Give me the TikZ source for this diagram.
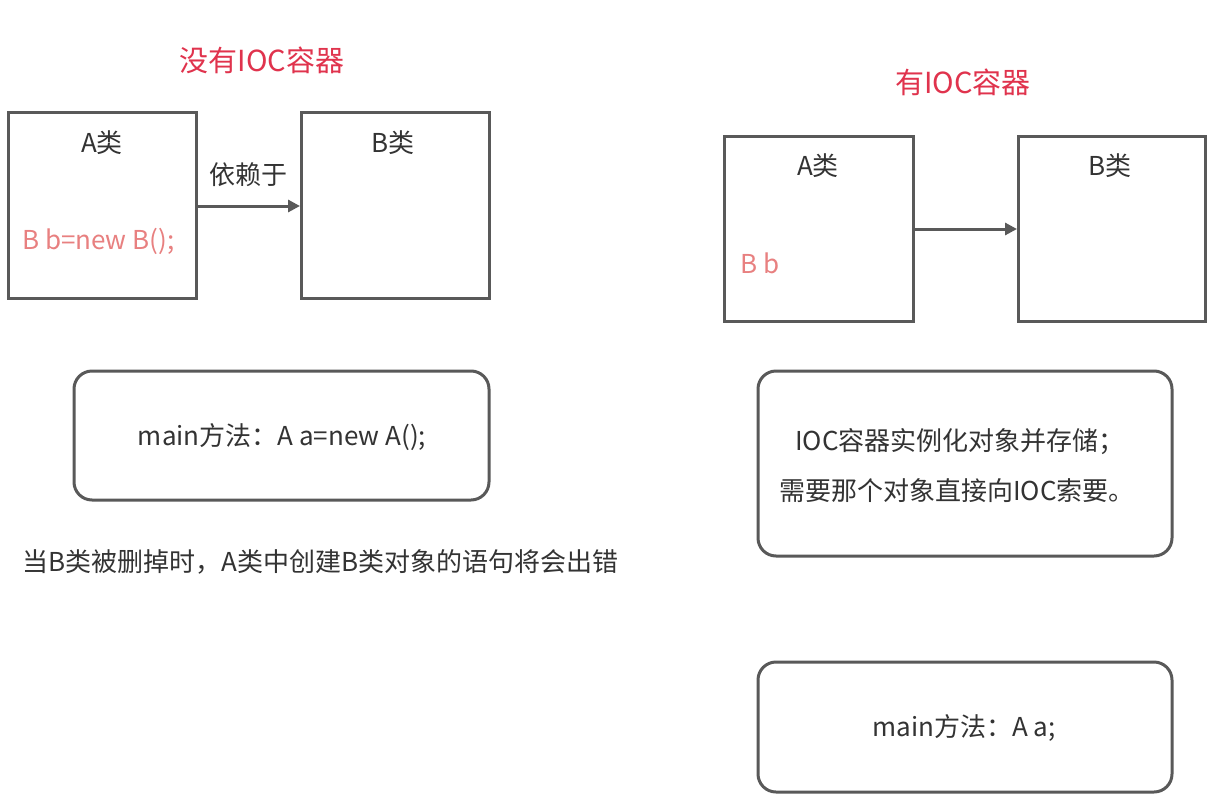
\documentclass[tikz,border=0pt]{standalone}
\usepackage{fontspec}
\setmainfont{Noto Sans CJK SC}
\usetikzlibrary{arrows.meta}
\definecolor{ln}{HTML}{595959}
\definecolor{ttl}{HTML}{E0334D}
\definecolor{code}{HTML}{E88080}
\definecolor{tx}{HTML}{333333}
\begin{document}
\begin{tikzpicture}[x=1pt,y=-1pt,
  box/.style={draw=ln,line width=3pt},
  rbox/.style={draw=ln,line width=3pt,rounded corners=18pt},
  txt/.style={text=tx,font=\fontsize{26}{30}\selectfont,inner sep=0pt},
  title/.style={text=ttl,font=\fontsize{29}{33}\selectfont,inner sep=0pt},
  ctxt/.style={text=code,font=\fontsize{26}{30}\selectfont,inner sep=0pt},
  arr/.style={draw=ln,line width=3pt,-{Triangle[length=12pt,width=12pt]}}]
\useasboundingbox (0,0) rectangle (1218,798);
\fill[white] (0,0) rectangle (1218,798);
\node[title] (t1) at (262,60) {没有IOC容器};
\draw[box] (8,112) rectangle (196,298);
\coordinate (a1r) at (196,206);
\node[txt] (a1) at (102,143) {A类};
\node[ctxt,anchor=west] (c1) at (22,241) {B b=new B();};
\draw[box] (301,112) rectangle (489,298);
\coordinate (b1l) at (300,206);
\node[txt] (b1) at (393,143) {B类};
\draw[arr] (a1r) -- (b1l);
\node[txt] (dep) at (248,175) {依赖于};
\draw[rbox] (74,371) rectangle (489,500);
\node[txt] (m1) at (282,437) {main方法：A a=new A();};
\node[txt,anchor=west] (note) at (22,562) {当B类被删掉时，A类中创建B类对象的语句将会出错};
\node[title] (t2) at (963,82) {有IOC容器};
\draw[box] (724,136) rectangle (913,321);
\coordinate (a2r) at (913,229);
\node[txt] (a2) at (818,166) {A类};
\node[ctxt,anchor=west] (c2) at (740,263) {B b};
\draw[box] (1018,136) rectangle (1205,321);
\coordinate (b2l) at (1017,229);
\node[txt] (b2) at (1110,166) {B类};
\draw[arr] (a2r) -- (b2l);
\draw[rbox] (758,371) rectangle (1172,556);
\node[txt] (i1) at (960,442) {IOC容器实例化对象并存储；};
\node[txt] (i2) at (957,491) {需要那个对象直接向IOC索要。};
\draw[rbox] (758,662) rectangle (1172,792);
\node[txt] (m2) at (964,728) {main方法：A a;};
\end{tikzpicture}
\end{document}
